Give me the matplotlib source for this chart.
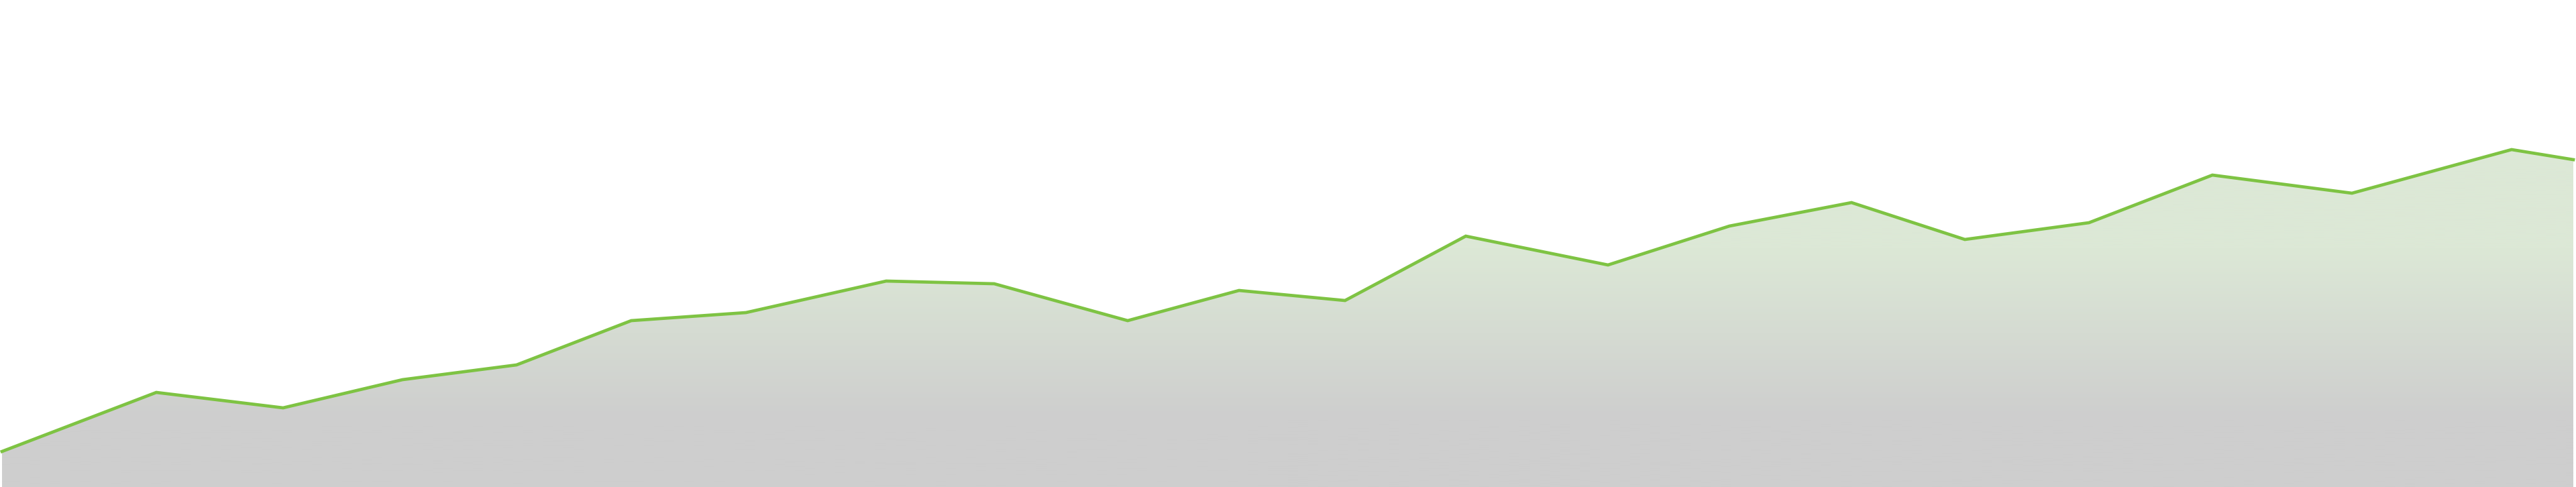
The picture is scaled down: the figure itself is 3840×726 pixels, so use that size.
import numpy as np
import matplotlib.pyplot as plt
from matplotlib.colors import LinearSegmentedColormap

# values (x position along the track, level above the baseline)
t = [3, 233, 422, 600, 770, 941, 1112, 1321, 1482, 1681, 1847, 2005,
     2185, 2397, 2578, 2760, 2929, 3114, 3298, 3506, 3744, 3836]
level = [53, 141, 118, 160, 182, 248, 260, 307, 303, 248, 293, 278,
         374, 331, 389, 424, 369, 394, 465, 438, 503, 488]

line_color = '#7ec343'
top_color = '#dce8d6'
bottom_color = '#cecece'

fig = plt.figure(figsize=(38.4, 7.26), dpi=100)
ax = fig.add_axes([0, 0, 1, 1])
ax.set_xlim(0, 3840)
ax.set_ylim(0, 726)
ax.axis('off')

# area under the line, filled with a vertical gradient
poly = ax.fill_between(t, level, 0, color='none', lw=0)
cmap = LinearSegmentedColormap.from_list(
    'fade', [(0.0, bottom_color), (0.14, bottom_color),
             (0.49, top_color), (1.0, top_color)])
grad = np.linspace(0, 1, 256).reshape(-1, 1)
img = ax.imshow(grad, extent=[0, 3840, 0, 726], origin='lower',
                aspect='auto', cmap=cmap, zorder=1)
img.set_clip_path(poly.get_paths()[0], transform=ax.transData)

ax.plot(t, level, color=line_color, lw=3.4, solid_joinstyle='miter',
        solid_capstyle='projecting', zorder=2)

fig.savefig('out.png', dpi=100, facecolor='white')
